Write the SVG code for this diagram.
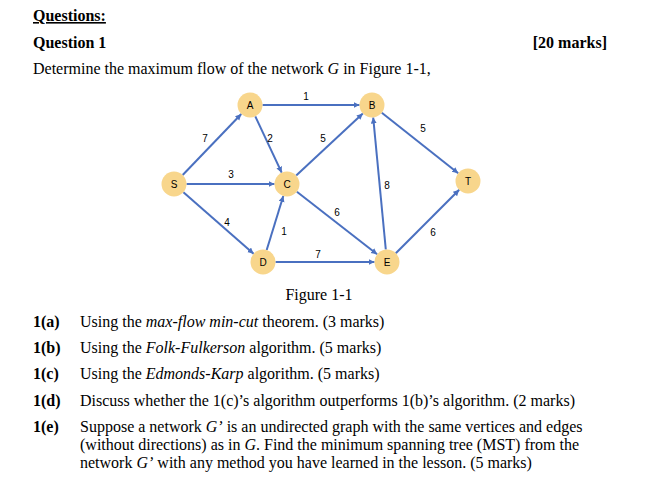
<svg xmlns="http://www.w3.org/2000/svg" width="645" height="478" viewBox="0 0 645 478">
<style>
.t{font-family:"Liberation Serif",serif;font-size:16px;fill:#000}
.b{font-weight:bold}
.n circle{fill:#f8d68c}
.n text{font-family:"Liberation Sans",Arial,sans-serif;font-size:10px;text-anchor:middle;fill:#000}
.e line{stroke:#4a70c0;stroke-width:2}
.l{font-family:"Liberation Sans",Arial,sans-serif;font-size:10px;text-anchor:middle;fill:#000}
</style>
<defs><marker id="ar" markerWidth="8" markerHeight="8" refX="6" refY="3" orient="auto" markerUnits="userSpaceOnUse"><path d="M0,0 L6,3 L0,6 z" fill="#4a70c0"/></marker></defs>
<rect width="645" height="478" fill="#fff"/>
<text class="t b" x="33" y="21" text-decoration="underline">Questions:</text>
<text class="t b" x="33" y="48">Question 1</text>
<text class="t b" x="607" y="48" text-anchor="end">[20 marks]</text>
<text class="t" x="33" y="74">Determine the maximum flow of the network <tspan font-style="italic">G</tspan> in Figure 1-1,</text>
<g class="e" id="connectors" marker-end="url(#ar)">
<line x1="182.7" y1="175" x2="241.3" y2="114" marker-end="url(#ar)"/>
<line x1="186.5" y1="184" x2="274.5" y2="184" marker-end="url(#ar)"/>
<line x1="183.4" y1="192.2" x2="253.6" y2="253.8" marker-end="url(#ar)"/>
<line x1="262.5" y1="105" x2="359.5" y2="105" marker-end="url(#ar)"/>
<line x1="255.3" y1="116.3" x2="281.7" y2="172.7" marker-end="url(#ar)"/>
<line x1="296.2" y1="175.5" x2="362.8" y2="113.5" marker-end="url(#ar)"/>
<line x1="296.9" y1="191.7" x2="377.1" y2="254.3" marker-end="url(#ar)"/>
<line x1="266.7" y1="250" x2="283.3" y2="196" marker-end="url(#ar)"/>
<line x1="275.5" y1="262" x2="374.5" y2="262" marker-end="url(#ar)"/>
<line x1="385.8" y1="249.5" x2="373.2" y2="117.5" marker-end="url(#ar)"/>
<line x1="381.8" y1="112.8" x2="458.2" y2="173.2" marker-end="url(#ar)"/>
<line x1="395.8" y1="253.2" x2="459.2" y2="189.8" marker-end="url(#ar)"/>
<text class="l" x="306" y="100">1</text>
<text class="l" x="205" y="142">7</text>
<text class="l" x="270" y="142">2</text>
<text class="l" x="323" y="142">5</text>
<text class="l" x="423" y="132">5</text>
<text class="l" x="231" y="178">3</text>
<text class="l" x="387" y="189">8</text>
<text class="l" x="337" y="216">6</text>
<text class="l" x="227" y="226">4</text>
<text class="l" x="284" y="235">1</text>
<text class="l" x="433" y="236">6</text>
<text class="l" x="318" y="258">7</text>
</g>
<g class="n" id="node-A"><circle cx="250" cy="105" r="12.5"/><text x="250" y="109">A</text></g>
<g class="n" id="node-B"><circle cx="372" cy="105" r="12.5"/><text x="372" y="109">B</text></g>
<g class="n" id="node-S"><circle cx="174" cy="184" r="12.5"/><text x="174" y="188">S</text></g>
<g class="n" id="node-C"><circle cx="287" cy="184" r="12.5"/><text x="287" y="188">C</text></g>
<g class="n" id="node-T"><circle cx="468" cy="181" r="12.5"/><text x="468" y="185">T</text></g>
<g class="n" id="node-D"><circle cx="263" cy="262" r="12.5"/><text x="263" y="266">D</text></g>
<g class="n" id="node-E"><circle cx="387" cy="262" r="12.5"/><text x="387" y="266">E</text></g>
<text class="t" x="319" y="300" text-anchor="middle">Figure 1-1</text>
<text class="t b" x="33" y="327">1(a)</text><text class="t" x="80" y="327">Using the <tspan font-style="italic">max-flow min-cut</tspan> theorem. (3 marks)</text>
<text class="t b" x="33" y="353">1(b)</text><text class="t" x="80" y="353">Using the <tspan font-style="italic">Folk-Fulkerson</tspan> algorithm. (5 marks)</text>
<text class="t b" x="33" y="379">1(c)</text><text class="t" x="80" y="379">Using the <tspan font-style="italic">Edmonds-Karp</tspan> algorithm. (5 marks)</text>
<text class="t b" x="33" y="406">1(d)</text><text class="t" x="80" y="406">Discuss whether the 1(c)’s algorithm outperforms 1(b)’s algorithm. (2 marks)</text>
<text class="t b" x="33" y="432">1(e)</text><text class="t" x="80" y="432">Suppose a network <tspan font-style="italic">G’</tspan> is an undirected graph with the same vertices and edges</text>
<text class="t" x="80" y="450">(without directions) as in <tspan font-style="italic">G</tspan>. Find the minimum spanning tree (MST) from the</text>
<text class="t" x="80" y="468">network <tspan font-style="italic">G’</tspan> with any method you have learned in the lesson. (5 marks)</text>
</svg>
